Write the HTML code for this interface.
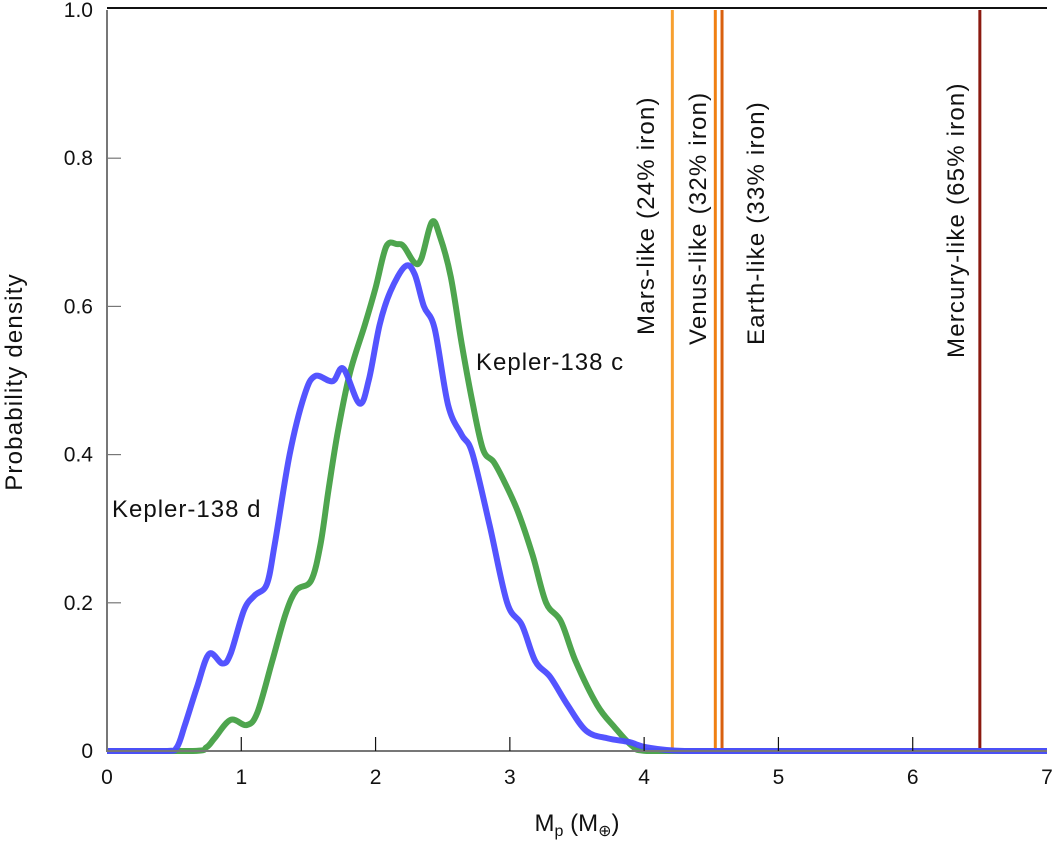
<!DOCTYPE html>
<html><head><meta charset="utf-8"><style>
html,body{margin:0;padding:0;background:#fff;}
svg text{font-family:"Liberation Sans",sans-serif;}
</style></head><body>
<svg id="chart" width="1054" height="844" xmlns="http://www.w3.org/2000/svg"></svg>
<script>
const xTicks=[0,1,2,3,4,5,6,7];
const yTicks=[0,0.2,0.4,0.6,0.8,1.0];
const yTickLabels=["0","0.2","0.4","0.6","0.8","1.0"];
const dMass=[0,0.44,0.52,0.58,0.67,0.76,0.86,0.92,1.02,1.1,1.19,1.25,1.36,1.47,1.55,1.68,1.76,1.88,1.95,2.03,2.11,2.22,2.29,2.36,2.44,2.54,2.64,2.72,2.85,2.98,3.09,3.19,3.3,3.43,3.57,3.73,3.89,4.02,4.3,5,6,7];
const dDens=[0,0,0.005,0.035,0.086,0.131,0.118,0.131,0.19,0.21,0.225,0.28,0.40,0.48,0.506,0.499,0.516,0.469,0.501,0.575,0.62,0.654,0.644,0.60,0.57,0.467,0.427,0.402,0.304,0.2,0.17,0.121,0.10,0.062,0.027,0.017,0.012,0.005,0,0,0,0];
const cMass=[0,0.64,0.74,0.8,0.92,1.04,1.12,1.23,1.33,1.41,1.52,1.59,1.65,1.72,1.81,1.92,2.0,2.08,2.16,2.21,2.29,2.34,2.42,2.48,2.56,2.64,2.72,2.8,2.88,2.96,3.06,3.17,3.27,3.38,3.49,3.65,3.78,3.91,4.02,4.5,5.5,7];
const cDens=[0,0,0.005,0.017,0.042,0.035,0.052,0.121,0.185,0.217,0.23,0.279,0.353,0.432,0.511,0.575,0.625,0.681,0.684,0.681,0.659,0.664,0.714,0.694,0.64,0.551,0.472,0.407,0.39,0.363,0.323,0.264,0.2,0.175,0.121,0.062,0.032,0.007,0,0,0,0];
const compNames=["Mars-like (24% iron)","Venus-like (32% iron)","Earth-like (33% iron)","Mercury-like (65% iron)"];
const compMass=[4.21,4.53,4.58,6.5];
const compColors=["#f7a030","#f08012","#d9600f","#8b1a10"];

const NS="http://www.w3.org/2000/svg";
const svg=document.getElementById('chart');
const X0=107,X1=1047,Y0=751,Y1=10;
const xs=v=>X0+(X1-X0)*v/7;
const ys=v=>Y0-(Y0-Y1)*v;
function mk(t,a){const e=document.createElementNS(NS,t);for(const k in a)e.setAttribute(k,a[k]);svg.appendChild(e);return e;}
function path(xa,ya){
  const p=xa.map((x,i)=>[xs(x),ys(ya[i])]);
  let d="M"+p[0][0]+","+p[0][1];
  for(let i=0;i<p.length-1;i++){
    const p0=p[Math.max(0,i-1)],p1=p[i],p2=p[i+1],p3=p[Math.min(p.length-1,i+2)];
    const c1=[p1[0]+(p2[0]-p0[0])/6,Math.min(Y0,p1[1]+(p2[1]-p0[1])/6)];
    const c2=[p2[0]-(p3[0]-p1[0])/6,Math.min(Y0,p2[1]-(p3[1]-p1[1])/6)];
    d+=" C"+c1[0]+","+c1[1]+" "+c2[0]+","+c2[1]+" "+p2[0]+","+p2[1];
  }
  return d;
}
compMass.forEach((m,i)=>{
  const l=mk('line',{x1:xs(m),x2:xs(m),y1:Y1,y2:Y0,stroke:compColors[i],'stroke-width':3});
  
  
});
const labelX=[654,706,764,964];
const labelY=[335,345,345,358];
compNames.forEach((n,i)=>{
  const t=mk('text',{x:labelX[i],y:labelY[i],'font-size':24,'letter-spacing':1.2,fill:'#111',transform:'rotate(-90 '+labelX[i]+' '+labelY[i]+')'});
  t.textContent=n;
  
  
});
const gCurve=mk('path',{d:path(cMass,cDens),fill:'none',stroke:'#4ea54e','stroke-width':6,'stroke-linejoin':'round'});


const bCurve=mk('path',{d:path(dMass,dDens),fill:'none',stroke:'#4b4bff','stroke-opacity':0.95,'stroke-width':6,'stroke-linejoin':'round'});


const axesPath=mk('path',{d:`M${X0},${Y1} L${X0},${Y0} L${X1},${Y0}`,fill:'none',stroke:'#777','stroke-width':2});


const topBorder=mk('line',{x1:X0,x2:X1,y1:Y1-2,y2:Y1-2,stroke:'#111','stroke-width':2});


xTicks.forEach(v=>{
  if(v>0&&v<7){const tk=mk('line',{x1:xs(v),x2:xs(v),y1:Y0,y2:Y0-14,stroke:'#111','stroke-width':1.2});
  
  }
  const t=mk('text',{x:xs(v),y:784,'font-size':21,'text-anchor':'middle',fill:'#111'});
  t.textContent=String(v);
  
  
});
yTicks.forEach((v,i)=>{
  if(v>0&&v<1){const tk=mk('line',{x1:X0,x2:X0+14,y1:ys(v),y2:ys(v),stroke:'#777','stroke-width':1.2});
  
  }
  const t=mk('text',{x:93,y:ys(v)+7,'font-size':21,'text-anchor':'end',fill:'#111'});
  t.textContent=yTickLabels[i];
  
  
});
</script>
<svg style="position:absolute;left:0;top:0" width="1054" height="844" xmlns="http://www.w3.org/2000/svg">
<text x="22" y="382" font-size="24" letter-spacing="1.2" fill="#111" text-anchor="middle" transform="rotate(-90 22 382)" font-family="Liberation Sans, sans-serif">Probability density</text>
<text x="577" y="831" font-size="24" fill="#111" text-anchor="middle" font-family="Liberation Sans, DejaVu Sans, sans-serif">M<tspan font-size="16" dy="5">p</tspan><tspan dy="-5"> (M</tspan><tspan font-size="16" dy="5">⊕</tspan><tspan dy="-5">)</tspan></text>
<text x="112" y="517" font-size="24" letter-spacing="1" fill="#111" font-family="Liberation Sans, sans-serif">Kepler-138 d</text>
<text x="476" y="370" font-size="24" letter-spacing="1" fill="#111" font-family="Liberation Sans, sans-serif">Kepler-138 c</text>
</svg>
</body></html>
